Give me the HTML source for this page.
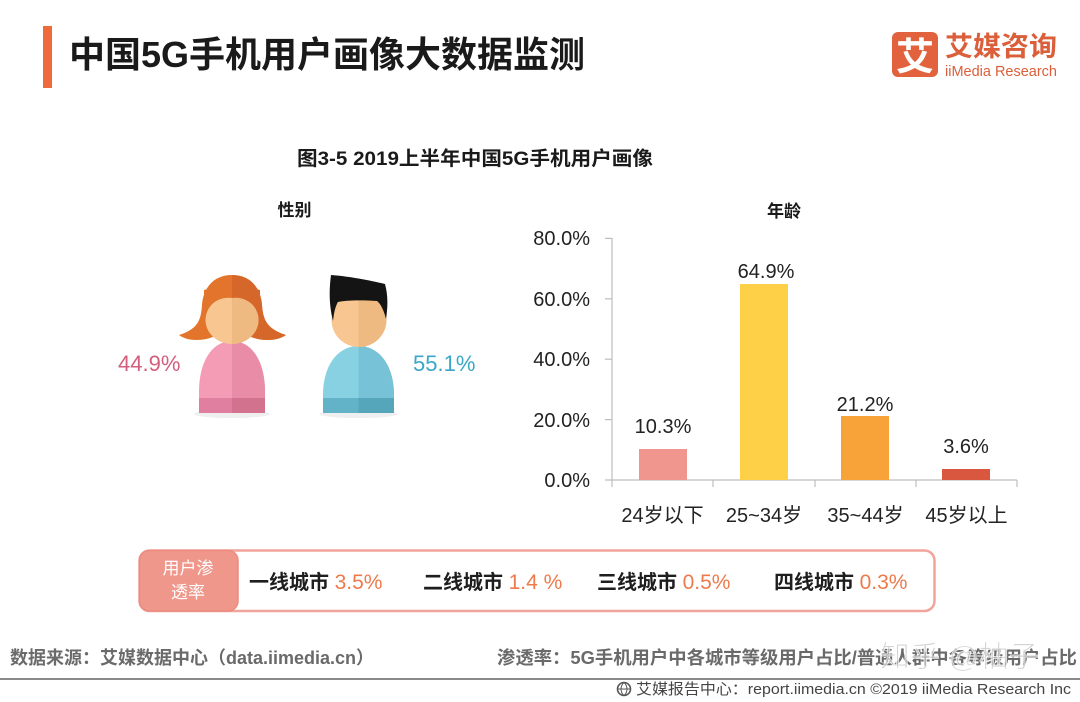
<!DOCTYPE html>
<html>
<head>
<meta charset="utf-8">
<style>
  html,body{margin:0;padding:0;background:#fff;}
  body{width:1080px;height:702px;overflow:hidden;}
  svg{display:block;font-family:"Liberation Sans","Noto Sans CJK SC",sans-serif;}
</style>
</head>
<body>
<svg width="1080" height="702" viewBox="0 0 1080 702" xmlns="http://www.w3.org/2000/svg">
  <defs>
    <clipPath id="rf"><rect x="232" y="250" width="80" height="200"/></clipPath>
    <clipPath id="rm"><rect x="358.5" y="250" width="80" height="200"/></clipPath>
    <clipPath id="fbody"><path d="M199,413 L199,392 C199,360 213,341 232,341 C251,341 265,360 265,392 L265,413 Z"/></clipPath>
    <clipPath id="mbody"><path d="M323,413 L323,395 C323,365 338,346 358.5,346 C379,346 394,365 394,395 L394,413 Z"/></clipPath>
  </defs>

  <!-- Header -->
  <rect x="43" y="26" width="9" height="62" fill="#ee6a3b"/>
  <text x="69" y="67" font-size="36" font-weight="700" fill="#1a1a1a" textLength="516" lengthAdjust="spacingAndGlyphs">中国5G手机用户画像大数据监测</text>

  <!-- Logo -->
  <rect x="892" y="32" width="46" height="45" rx="6" fill="#e2623e"/>
  <text x="915" y="70" font-size="38" font-weight="700" fill="#fff" text-anchor="middle">艾</text>
  <text x="945" y="56" font-size="27" font-weight="700" fill="#da5f3a" textLength="112" lengthAdjust="spacingAndGlyphs">艾媒咨询</text>
  <text x="945" y="76" font-size="15" fill="#da5f3a" textLength="112" lengthAdjust="spacingAndGlyphs">iiMedia Research</text>

  <!-- Subtitle -->
  <text x="475" y="165" font-size="19.5" font-weight="700" fill="#1a1a1a" text-anchor="middle" textLength="356" lengthAdjust="spacingAndGlyphs">图3-5 2019上半年中国5G手机用户画像</text>

  <text x="294.5" y="216" font-size="17" font-weight="700" fill="#1a1a1a" text-anchor="middle">性别</text>
  <text x="784" y="217" font-size="17" font-weight="700" fill="#1a1a1a" text-anchor="middle">年龄</text>

  <!-- Female figure -->
  <ellipse cx="232" cy="414" rx="38" ry="4" fill="#efefef"/>
  <path d="M199,413 L199,392 C199,360 213,341 232,341 C251,341 265,360 265,392 L265,413 Z" fill="#f49bb6"/>
  <g clip-path="url(#fbody)">
    <rect x="232" y="330" width="40" height="90" fill="#e88ca8"/>
    <rect x="190" y="398" width="42" height="20" fill="#e07fa0"/>
    <rect x="232" y="398" width="42" height="20" fill="#d3728f"/>
  </g>
  <path d="M232,275 C212,275 203,290 202,305 C201,320 198,329 179,335 C188,342 205,341 215,336 L249,336 C259,341 276,342 286,335 C267,329 263,320 262,305 C261,290 252,275 232,275 Z" fill="#e2752b"/>
  <path d="M232,275 C252,275 261,290 262,305 C263,320 267,329 286,335 C276,342 259,341 249,336 L232,336 Z" fill="#d6672a"/>
  <ellipse cx="232" cy="320" rx="26.5" ry="24" fill="#f8c690"/>
  <ellipse cx="232" cy="320" rx="26.5" ry="24" fill="#efb982" clip-path="url(#rf)"/>
  <path d="M204,320 C206,304 220,296 232,298 L232,284 L204,290 Z" fill="#e2752b"/>
  <path d="M232,298 C244,296 258,304 260,320 L260,290 L232,284 Z" fill="#d6672a"/>

  <!-- Male figure -->
  <ellipse cx="358.5" cy="414" rx="39" ry="4" fill="#efefef"/>
  <path d="M323,413 L323,395 C323,365 338,346 358.5,346 C379,346 394,365 394,395 L394,413 Z" fill="#88d1e3"/>
  <g clip-path="url(#mbody)">
    <rect x="358.5" y="330" width="40" height="90" fill="#77c2d7"/>
    <rect x="315" y="398" width="44" height="20" fill="#62b2c8"/>
    <rect x="358.5" y="398" width="44" height="20" fill="#55a5bb"/>
  </g>
  <ellipse cx="359" cy="320" rx="27.5" ry="27" fill="#f8c690"/>
  <ellipse cx="359" cy="320" rx="27.5" ry="27" fill="#efb982" clip-path="url(#rm)"/>
  <path d="M331,275 C346,276 369,280 385,284 C388,295 388,306 386,319 C384,311 381,304 377,301 C362,300 347,300 338,302 C335,307 334,313 333,321 C329,305 329,290 331,275 Z" fill="#141414"/>

  <text x="118" y="371" font-size="22" fill="#d35f7d">44.9%</text>
  <text x="413" y="371" font-size="22" fill="#3aa7c7">55.1%</text>

  <!-- Bar chart axes -->
  <g stroke="#bdbdbd" stroke-width="1.2" fill="none">
    <line x1="612" y1="238" x2="612" y2="487"/>
    <line x1="605" y1="480" x2="1017" y2="480"/>
    <line x1="605" y1="419.6" x2="612" y2="419.6"/>
    <line x1="605" y1="359.2" x2="612" y2="359.2"/>
    <line x1="605" y1="298.8" x2="612" y2="298.8"/>
    <line x1="605" y1="238.4" x2="612" y2="238.4"/>
    <line x1="713" y1="480" x2="713" y2="487"/>
    <line x1="815" y1="480" x2="815" y2="487"/>
    <line x1="916" y1="480" x2="916" y2="487"/>
    <line x1="1017" y1="480" x2="1017" y2="487"/>
  </g>
  <g font-size="20" fill="#222" text-anchor="end">
    <text x="590" y="487">0.0%</text>
    <text x="590" y="427">20.0%</text>
    <text x="590" y="366">40.0%</text>
    <text x="590" y="306">60.0%</text>
    <text x="590" y="245">80.0%</text>
  </g>

  <!-- Bars -->
  <rect x="639" y="449" width="48" height="31" fill="#f1968f"/>
  <rect x="740" y="284" width="48" height="196" fill="#fdd047"/>
  <rect x="841" y="416" width="48" height="64" fill="#f8a23a"/>
  <rect x="942" y="469" width="48" height="11" fill="#d9573f"/>

  <g font-size="20" fill="#222" text-anchor="middle">
    <text x="663" y="433">10.3%</text>
    <text x="766" y="278">64.9%</text>
    <text x="865" y="411">21.2%</text>
    <text x="966" y="453">3.6%</text>
    <text x="662.5" y="522">24岁以下</text>
    <text x="764" y="522">25~34岁</text>
    <text x="865.5" y="522">35~44岁</text>
    <text x="966.5" y="522">45岁以上</text>
  </g>

  <!-- Penetration box -->
  <rect x="139.5" y="550.5" width="795" height="60.5" rx="10" fill="#fff" stroke="#f0a49a" stroke-width="2.5"/>
  <rect x="139.5" y="550.5" width="98.5" height="60.5" rx="10" fill="#f0978b" stroke="#ec8c80" stroke-width="1.5"/>
  <text x="188" y="574" font-size="17" fill="#fff" text-anchor="middle">用户渗</text>
  <text x="188" y="598" font-size="17" fill="#fff" text-anchor="middle">透率</text>
  <g font-size="20" font-weight="700" fill="#1e1e1e">
    <text x="249" y="589">一线城市 <tspan font-weight="400" font-size="21" fill="#ee7a4c">3.5%</tspan></text>
    <text x="423" y="589">二线城市 <tspan font-weight="400" font-size="21" fill="#ee7a4c">1.4 %</tspan></text>
    <text x="597" y="589">三线城市 <tspan font-weight="400" font-size="21" fill="#ee7a4c">0.5%</tspan></text>
    <text x="774" y="589">四线城市 <tspan font-weight="400" font-size="21" fill="#ee7a4c">0.3%</tspan></text>
  </g>

  <!-- Footer -->
  <text x="10" y="664" font-size="18" font-weight="700" fill="#6a6a6a" textLength="364" lengthAdjust="spacingAndGlyphs">数据来源：艾媒数据中心（data.iimedia.cn）</text>
  <text x="497" y="664" font-size="18" font-weight="700" fill="#6a6a6a" textLength="580" lengthAdjust="spacingAndGlyphs">渗透率：5G手机用户中各城市等级用户占比/普通人群中各等级用户占比</text>
  <text x="880" y="667" font-size="30" fill="#c8c8c8" opacity="0.75" stroke="#ffffff" stroke-width="1">知乎 @柚子</text>
  <line x1="0" y1="679" x2="1080" y2="679" stroke="#8a8a8a" stroke-width="2"/>
  <circle cx="624" cy="689" r="6.5" fill="none" stroke="#555" stroke-width="1.6"/>
  <path d="M618,689 L630,689 M624,682.5 C620,686 620,692 624,695.5 M624,682.5 C628,686 628,692 624,695.5" stroke="#555" stroke-width="1" fill="none"/>
  <text x="636" y="694" font-size="15" fill="#444" textLength="435" lengthAdjust="spacingAndGlyphs">艾媒报告中心：report.iimedia.cn    ©2019  iiMedia Research  Inc</text>
</svg>
</body>
</html>
